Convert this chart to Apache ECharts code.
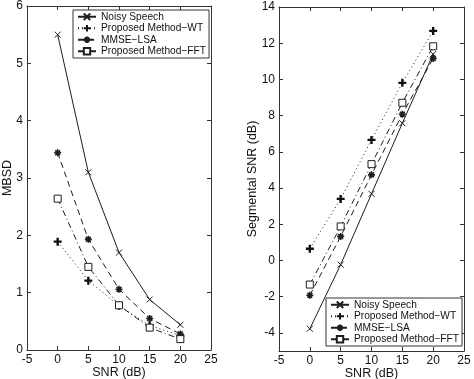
<!DOCTYPE html>
<html>
<head>
<meta charset="utf-8">
<script src="https://cdn.jsdelivr.net/npm/echarts@6/dist/echarts.min.js"></script>
<style>html,body{margin:0;padding:0;background:#fff}#c{width:474px;height:379px}</style>
</head>
<body>
<div id="c"></div>
<script>
var snr = [0, 5, 10, 15, 20];
var seriesNames = ['Noisy Speech', 'Proposed Method\u2212WT', 'MMSE\u2212LSA', 'Proposed Method\u2212FFT'];
// MBSD (left)
var mbsdNoisy = [5.5, 3.1, 1.7, 0.88, 0.44];
var mbsdWT = [1.89, 1.21, 0.77, 0.43, 0.25];
var mbsdMMSE = [3.44, 1.93, 1.06, 0.55, 0.28];
var mbsdFFT = [2.64, 1.45, 0.78, 0.39, 0.19];
// Segmental SNR (right)
var segNoisy = [-3.77, -0.23, 3.68, 7.58, 11.4];
var segWT = [0.65, 3.40, 6.66, 9.81, 12.68];
var segMMSE = [-1.92, 1.33, 4.73, 8.08, 11.16];
var segFFT = [-1.33, 1.88, 5.32, 8.71, 11.83];
var xTicks = [-5, 0, 5, 10, 15, 20, 25];
var yTicksLeft = [0, 1, 2, 3, 4, 5, 6];
var yTicksRight = [-4, -2, 0, 2, 4, 6, 8, 10, 12, 14];

var FONT = 'Liberation Sans';
var INK = '#1e1e1e';

function pairs(ys) { return snr.map(function (x, i) { return [x, ys[i]]; }); }

var styles = [
  { symbol: 'path://M0,0L10,10M10,0L0,10', size: 6, line: 'solid', fill: 'transparent', bw: 1 },
  { symbol: 'path://M3.5,0H6.5V3.5H10V6.5H6.5V10H3.5V6.5H0V3.5H3.5Z', size: 8, line: [1, 3], fill: '#111', bw: 0 },
  { symbol: 'path://M5,0V10M0,5H10M1.5,1.5L8.5,8.5M8.5,1.5L1.5,8.5', size: 7, line: [6, 4], fill: 'transparent', bw: 1.6 },
  { symbol: 'rect', size: 7, line: [6, 3, 1, 3], fill: '#fff', bw: 1 }
];

function mk(name, idx, data, gi) {
  var s = styles[idx];
  return {
    name: name, type: 'line', xAxisIndex: gi * 2, yAxisIndex: gi * 2,
    data: pairs(data), symbol: s.symbol, symbolSize: s.size, showSymbol: true,
    lineStyle: { color: INK, width: 1, type: s.line },
    itemStyle: { color: s.fill, borderColor: INK, borderWidth: s.bw },
    animation: false, z: 3
  };
}

var grids = [
  { left: 27, right: 263, top: 6, bottom: 29, outerBoundsMode: 'none', containLabel: false },
  { left: 279, right: 10, top: 7, bottom: 28, outerBoundsMode: 'none', containLabel: false }
];

function xAx(gi, pos) {
  var main = pos === 'bottom';
  return {
    type: 'value', gridIndex: gi, position: pos, min: -5, max: 25, interval: 5,
    name: main ? 'SNR (dB)' : '', nameLocation: 'middle', nameGap: 16, nameMoveOverlap: false,
    nameTextStyle: { fontFamily: FONT, fontSize: 12.5, color: '#111' },
    axisLine: { show: true, onZero: false, lineStyle: { color: '#333', width: 1 } },
    axisTick: { show: true, inside: true, length: 4, lineStyle: { color: '#333' } },
    axisLabel: { show: main, fontFamily: FONT, fontSize: 12, color: '#111', margin: 4 },
    splitLine: { show: false }
  };
}
function yAx(gi, pos, min, max, ticks, name, gap) {
  var main = pos === 'left';
  return {
    type: 'value', gridIndex: gi, position: pos, min: min, max: max,
    name: main ? name : '', nameLocation: 'middle', nameGap: gap, nameMoveOverlap: false,
    nameTextStyle: { fontFamily: FONT, fontSize: 12.5, color: '#111' },
    axisLine: { show: true, onZero: false, lineStyle: { color: '#333', width: 1 } },
    axisTick: { show: true, inside: true, length: 4, lineStyle: { color: '#333' }, customValues: ticks },
    axisLabel: { show: main, fontFamily: FONT, fontSize: 12, color: '#111', margin: 4, customValues: ticks },
    splitLine: { show: false }
  };
}

function legendAt(left, top) {
  return {
    left: left, top: top,
    orient: 'vertical', itemWidth: 18, itemHeight: 8, itemGap: 0,
    backgroundColor: '#fff', borderColor: '#333', borderWidth: 1, borderRadius: 0,
    padding: [1, 3, 1, 4],
    textStyle: { fontFamily: FONT, fontSize: 10.2, lineHeight: 11.5, color: '#111' },
    data: seriesNames.slice()
  };
}

var option = {
  backgroundColor: '#fff',
  animation: false,
  grid: grids,
  xAxis: [xAx(0, 'bottom'), xAx(0, 'top'), xAx(1, 'bottom'), xAx(1, 'top')],
  yAxis: [
    yAx(0, 'left', 0, 6, yTicksLeft, 'MBSD', 13), yAx(0, 'right', 0, 6, yTicksLeft, '', 0),
    yAx(1, 'left', -5, 14, yTicksRight, 'Segmental SNR (dB)', 20), yAx(1, 'right', -5, 14, yTicksRight, '', 0)
  ],
  legend: [legendAt(73, 10), legendAt(326, 298)],
  series: [
    mk(seriesNames[0], 0, mbsdNoisy, 0),
    mk(seriesNames[1], 1, mbsdWT, 0),
    mk(seriesNames[2], 2, mbsdMMSE, 0),
    mk(seriesNames[3], 3, mbsdFFT, 0),
    mk(seriesNames[0], 0, segNoisy, 1),
    mk(seriesNames[1], 1, segWT, 1),
    mk(seriesNames[2], 2, segMMSE, 1),
    mk(seriesNames[3], 3, segFFT, 1)
  ]
};
var chart = echarts.init(document.getElementById('c'), null, { renderer: 'canvas' });
chart.setOption(option);
</script>
</body>
</html>
